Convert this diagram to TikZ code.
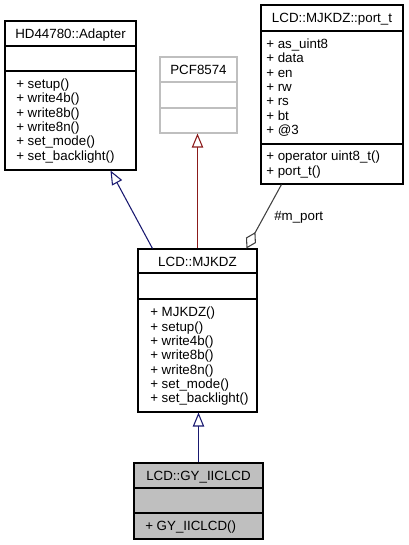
\documentclass[tikz,border=0pt]{standalone}
\usepackage{fontspec}
\setmainfont{Liberation Sans}
\usetikzlibrary{arrows.meta, positioning, calc, fit}

\definecolor{edgeblue}{HTML}{191970}
\definecolor{edgered}{HTML}{8B1A1A}
\definecolor{edgegray}{HTML}{404040}
\definecolor{boxgray}{HTML}{BFBFBF}

\tikzset{
  classbox/.style={draw=black, line width=0.8pt, inner sep=0pt, fill=white},
  divider/.style={line width=0.8pt},
  classtitle/.style={anchor=base, inner sep=0pt, font=\fontsize{10}{12}\selectfont},
  classmember/.style={anchor=base west, inner sep=0pt, font=\fontsize{10}{12}\selectfont},
  inherit/.style={line width=0.8pt, -{Triangle[open, length=10.5pt, width=8.5pt]}},
  aggregate/.style={line width=0.8pt, edgegray, {Diamond[open, length=14pt, width=8.5pt]}-}
}

\begin{document}
\begin{tikzpicture}[x=0.75pt, y=-0.75pt]
\useasboundingbox (0,0) rectangle (409,545);

% HD44780::Adapter
\node[classbox, fit={(5,21) (136,170)}] (adapter) {};
\draw[divider] (5,46) -- (136,46);
\draw[divider] (5,71) -- (136,71);
\node[classtitle] (adaptername) at (70.5,39) {HD44780::Adapter};
\foreach \m [count=\i from 0] in {setup(), write4b(), write8b(), write8n(), set\_mode(), set\_backlight()}
  \node[classmember] (adapterm\i) at (16,88.5+14.33*\i) {+ \m};

% PCF8574
\node[classbox, draw=boxgray, fit={(160,57) (237,133)}] (pcf) {};
\draw[divider, boxgray] (160,82) -- (237,82);
\draw[divider, boxgray] (160,108) -- (237,108);
\node[classtitle] (pcfname) at (198.5,74.5) {PCF8574};

% LCD::MJKDZ::port_t
\node[classbox, fit={(261,5) (403,184)}] (port) {};
\draw[divider] (261,31) -- (403,31);
\draw[divider] (261,144) -- (403,144);
\node[classtitle] (portname) at (332,22.5) {LCD::MJKDZ::port\_t};
\foreach \m [count=\i from 0] in {as\_uint8, data, en, rw, rs, bt, @3}
  \node[classmember] (porta\i) at (266,48.5+14.33*\i) {+ \m};
\foreach \m [count=\i from 0] in {operator uint8\_t(), port\_t()}
  \node[classmember] (portm\i) at (266,161+14.33*\i) {+ \m};

% LCD::MJKDZ
\node[classbox, fit={(138,249) (257,412)}] (mjkdz) {};
\draw[divider] (138,273) -- (257,273);
\draw[divider] (138,299) -- (257,299);
\node[classtitle] (mjkdzname) at (197.5,266.5) {LCD::MJKDZ};
\foreach \m [count=\i from 0] in {MJKDZ(), setup(), write4b(), write8b(), write8n(), set\_mode(), set\_backlight()}
  \node[classmember] (mjkdzm\i) at (150,316.7+14.33*\i) {+ \m};

% LCD::GY_IICLCD
\node[classbox, fill=boxgray, fit={(134,463) (263,539)}] (gy) {};
\draw[divider] (134,488) -- (263,488);
\draw[divider] (134,513) -- (263,513);
\node[classtitle] (gyname) at (198.5,480.5) {LCD::GY\_IICLCD};
\node[classmember] (gym0) at (145,530.5) {+ GY\_IICLCD()};

% Inheritance
\draw[inherit, edgeblue] (gy.north) -- (gy.north |- mjkdz.south);
\draw[inherit, edgered] (mjkdz.north) -- (mjkdz.north |- pcf.south);
\draw[inherit, edgeblue] ($(mjkdz.north west)+(15,0)$) -- ($(adapter.south west)+(106,0)$);

% Aggregation
\draw[aggregate] ($(mjkdz.north west)+(109,0)$) -- ($(port.south west)+(21,0)$);
\node[classmember] (mport) at (274,220) {\#m\_port};
\end{tikzpicture}
\end{document}
